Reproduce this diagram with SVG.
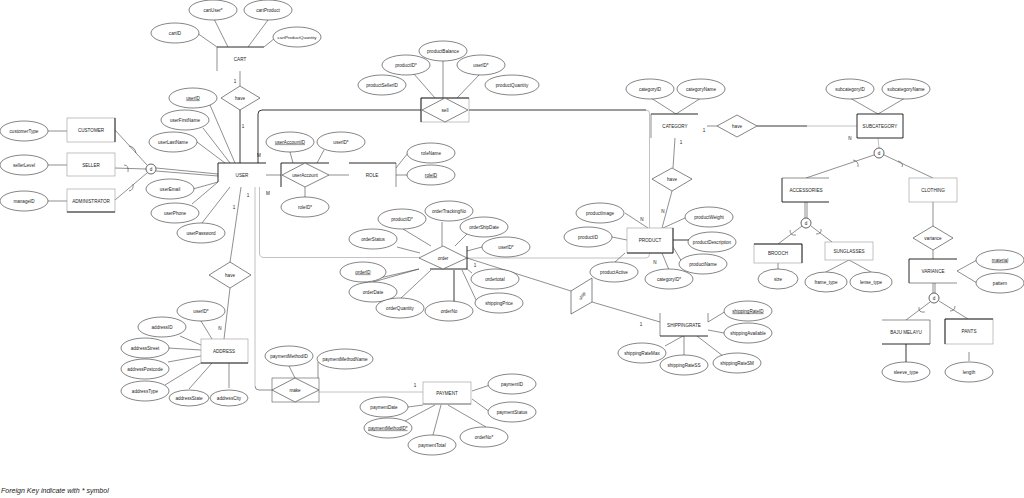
<svg xmlns="http://www.w3.org/2000/svg" width="1024" height="498" viewBox="0 0 1024 498">
<style>
text{font-family:"Liberation Sans",Arial,sans-serif;font-size:4.6px;fill:#222;text-anchor:middle}
ellipse{fill:#fff;stroke:#333;stroke-width:.6}
rect{fill:#fff;stroke:#999;stroke-width:.6}
polygon{fill:#fff;stroke:#333;stroke-width:.6}
circle{fill:#fff;stroke:#222;stroke-width:.7}
path{fill:none}
.c path,.l{stroke:#444;stroke-width:.6}
.c .d{stroke:#222;stroke-width:.9}
.c .g{stroke:#bbb;stroke-width:.9}
.e{stroke:#111;stroke-width:.9;fill:none}
.w{fill:#fff;stroke:none}
.u{text-decoration:underline}
</style>
<g id="connectors" class="c">
<path class="d" d="M421 110H262Q258 110 258 114V163"/>
<path class="d" d="M469 110H646"/>
<path d="M646 110Q649.500 110 649.500 113V228" class="g"/>
<path class="g" d="M467 258H646Q649.500 258 649.500 254V253"/>
<path class="g" d="M259.500 187V253Q259.500 257.500 264 257.500H419"/>
<path class="g" d="M255 187V386"/>
<path d="M255 386Q255 390 259 390H272"/>
<path class="g" d="M319 392H423"/>
<path d="M197 33L217 47M214 19L228 47M268 20L248 47M275 38L264 47"/>
<path d="M240 71V86"/><path class="d" d="M240 110V163"/>
<path d="M210 105L235 163M203 128L230 163M197 142L225 163M193 189L218 182M192 204L218 182M202 223L230 187M241 187L232 249L230 262M230 288L224 339"/>
<path d="M115 130L147 165M115 168L146 169M115 200L147 173M48 131H67M48 165H67M48 201H67M156 168L218 174M156 171L218 176"/>
<path d="M266 175H281M329 175H349M290 152L293 163M324 150L317 163M305 197V187M408 153L396 168M408 175H396"/>
<path d="M443 61V98M414 74L435 98M480 74L457 98"/>
<path d="M397 247L420 253M403 229L431 246M442 222V246M469 232L455 246M482 247L467 251M375 279L419 269M373 282L419 269M400 299L431 270M477 302L462 270M472 273L467 269"/>
<path class="d" d="M454 302V270"/>
<path d="M467 258L571 291M592 302L660 322"/>
<path d="M726 311L708 322M724 333L708 330M665 346L683 336M684 355V336M723 356L697 336"/>
<path d="M675 138L673 168M672 191L662 228M685 218L663 228M662 253L669 270M682 262L673 247M625 213L648 228M612 237L627 240M625 253L615 262"/>
<path class="d" d="M673 240H689"/>
<path d="M651 98L676 114M701 98L676 114M850 98L878 114M905 98L878 114M707 126H717"/>
<path class="d" d="M757 126H807"/><path class="g" d="M807 126H857M878 138L879 148"/>
<path d="M874 155L806 178M884 155L933 178M805 202V218M807 202V218M802 226L778 244M811 226L832 242M778 263V269M849 260L826 272M849 260L871 272M933 202V226M933 250V259M957 271L977 260M957 271L977 283M933 283V293M935 283V293M930 302L906 320M939 301L968 319M969 352V361"/>
<path class="d" d="M906 344V362"/>
<path d="M201 321L212 339M180 336L201 345M168 348L201 350M168 362L201 356M165 385L201 363M189 389L212 363M229 388V363M289 366L295 378M318 378V362L322 358M472 391L490 385M472 399L490 412M408 407L423 405M405 421L435 405M433 435L441 405M486 427L448 405"/>
<path d="M129 146Q135 147 136 153M124 165Q129 165 128 172M129 191Q134 190 133 184M853 160Q859 161 858 167M898 161Q904 163 902 167M790 230Q790 236 796 235M816 234Q822 234 821 229M919 307Q918 313 925 312M950 311Q955 311 955 306"/>
</g>
<g id="customerType"><ellipse cx="24" cy="131" rx="24" ry="10"/><text x="24" y="132.600">customerType</text></g>
<g id="sellerLevel"><ellipse cx="24" cy="165" rx="24" ry="10"/><text x="24" y="166.600">sellerLevel</text></g>
<g id="manageID"><ellipse cx="24" cy="201" rx="24" ry="10"/><text x="24" y="202.600">manageID</text></g>
<g id="customer"><rect x="67" y="118" width="48" height="24"/><path class="e" d="M115 118V142"/><text x="91" y="131.600">CUSTOMER</text></g>
<g id="seller"><rect x="67" y="153" width="48" height="23"/><text x="91" y="166.600">SELLER</text></g>
<g id="administrator"><rect x="67" y="189" width="48" height="23"/><path class="e" d="M67 212H115"/><text x="91" y="202.600">ADMINISTRATOR</text></g>
<g id="disjoint-user"><circle cx="151" cy="169" r="5"/><text x="151" y="170.600">d</text></g>
<g id="cart"><rect class="w" x="217" y="47" width="48" height="24"/><path class="e" d="M217 47H264"/><path class="l" d="M217 47V71"/><text x="240" y="60.600">CART</text></g>
<g id="cartUser"><ellipse cx="213" cy="10" rx="24" ry="10"/><text x="213" y="11.600">cartUser*</text></g>
<g id="cartProduct"><ellipse cx="268" cy="10" rx="24" ry="10"/><text x="268" y="11.600">cartProduct</text></g>
<g id="cartID"><ellipse cx="175" cy="33" rx="24" ry="10"/><text x="175" y="34.600">cartID</text></g>
<g id="cartProductQuantity"><ellipse cx="297" cy="37" rx="24" ry="10"/><text x="297" y="38.600" style="font-size:4.400px">cartProductQuantity</text></g>
<g id="have-cart"><polygon points="240,86 260,98 240,110 221,98"/><text x="240" y="99.600">have</text></g>
<g id="userID"><ellipse cx="193" cy="98" rx="24" ry="10"/><text class="u" x="193" y="99.600">userID</text></g>
<g id="userFirstName"><ellipse cx="185" cy="120" rx="24" ry="10"/><text x="185" y="121.600">userFirstName</text></g>
<g id="userLastName"><ellipse cx="173" cy="142" rx="24" ry="10"/><text x="173" y="143.600">userLastName</text></g>
<g id="userEmail"><ellipse cx="170" cy="189" rx="24" ry="10"/><text x="170" y="190.600">userEmail</text></g>
<g id="userPhone"><ellipse cx="175" cy="213" rx="24" ry="10"/><text x="175" y="214.600">userPhone</text></g>
<g id="userPassword"><ellipse cx="201" cy="233" rx="24" ry="10"/><text x="201" y="234.600">userPassword</text></g>
<g id="user"><rect class="w" x="218" y="163" width="48" height="24"/><path class="e" d="M218 182V163H266"/><text x="242" y="176.600">USER</text></g>
<g id="userAccount"><rect class="w" x="281" y="163" width="48" height="24"/><path class="e" d="M281 187V163H329"/><polygon points="305,163 329,175 305,187 282,175"/><text x="305" y="176.600">userAccount</text></g>
<g id="userAccountID"><ellipse cx="290" cy="142" rx="24" ry="10"/><text class="u" x="290" y="143.600">userAccountID</text></g>
<g id="userID-account"><ellipse cx="341" cy="142" rx="24" ry="10"/><text x="341" y="143.600">userID*</text></g>
<g id="roleID-fk"><ellipse cx="305" cy="207" rx="24" ry="10"/><text x="305" y="208.600">roleID*</text></g>
<g id="role"><rect class="w" x="349" y="163" width="47" height="24"/><path class="e" d="M349 163H396"/><path class="l" d="M396 163V187"/><text x="372" y="176.600">ROLE</text></g>
<g id="roleName"><ellipse cx="431" cy="153" rx="24" ry="10"/><text x="431" y="154.600">roleName</text></g>
<g id="roleID"><ellipse cx="431" cy="175" rx="24" ry="10"/><text class="u" x="431" y="176.600">roleID</text></g>
<g id="sell"><rect x="421" y="98" width="48" height="24"/><path class="e" d="M421 122V98H469"/><polygon points="445,98 468,110 445,122 422,110"/><text x="445" y="111.600">sell</text></g>
<g id="productSellerID"><ellipse cx="382" cy="85" rx="24" ry="10"/><text x="382" y="86.600">productSellerID</text></g>
<g id="productQuantity"><ellipse cx="512" cy="85" rx="27" ry="10"/><text x="512" y="86.600">productQuantity</text></g>
<g id="productID-sell"><ellipse cx="406" cy="65" rx="24" ry="10"/><text x="406" y="66.600">productID*</text></g>
<g id="userID-sell"><ellipse cx="481" cy="65" rx="24" ry="10"/><text x="481" y="66.600">userID*</text></g>
<g id="productBalance"><ellipse cx="443" cy="51" rx="24" ry="10"/><text x="443" y="52.600">productBalance</text></g>
<g id="order"><path class="e" d="M467 246V269H430"/><polygon points="443,246 467,258 443,269 419,258"/><text x="443" y="259.600">order</text></g>
<g id="productID-order"><ellipse cx="402" cy="219" rx="24" ry="10"/><text x="402" y="220.600">productID*</text></g>
<g id="orderTrackingNo"><ellipse cx="449" cy="211" rx="24" ry="10"/><text x="449" y="212.600">orderTrackingNo</text></g>
<g id="orderShipDate"><ellipse cx="484" cy="227" rx="24" ry="10"/><text x="484" y="228.600">orderShipDate</text></g>
<g id="userID-order"><ellipse cx="506" cy="247" rx="24" ry="10"/><text x="506" y="248.600">userID*</text></g>
<g id="orderStatus"><ellipse cx="373" cy="239" rx="24" ry="10"/><text x="373" y="240.600">orderStatus</text></g>
<g id="orderDate"><ellipse cx="373" cy="292" rx="24" ry="10"/><text x="373" y="293.600">orderDate</text></g>
<g id="orderID"><ellipse cx="363" cy="272" rx="23" ry="10"/><text class="u" x="363" y="273.600">orderID</text></g>
<g id="orderQuantity"><ellipse cx="400" cy="308" rx="24" ry="10"/><text x="400" y="309.600">orderQuantity</text></g>
<g id="orderNo"><ellipse cx="449" cy="311" rx="24" ry="10"/><text x="449" y="312.600">orderNo</text></g>
<g id="shippingPrice"><ellipse cx="499" cy="303" rx="24" ry="10"/><text x="499" y="304.600">shippingPrice</text></g>
<g id="orderTotal"><ellipse cx="495" cy="279" rx="24" ry="10"/><text x="495" y="280.600">ordertotal</text></g>
<g id="ship"><polygon points="571,291 592,278 592,302 571,314"/><text transform="translate(582 296) rotate(-55)" x="0" y="1.600">ship</text></g>
<g id="shippingRate"><rect class="w" x="660" y="313" width="48" height="23"/><path class="l" d="M660 313V336M708 313V322"/><path class="e" d="M660 336H708"/><text x="684" y="326.600">SHIPPINGRATE</text></g>
<g id="shippingRateID"><ellipse cx="748" cy="311" rx="24" ry="10"/><text class="u" x="748" y="312.600">shippingRateID</text></g>
<g id="shippingAvailable"><ellipse cx="748" cy="333" rx="24" ry="10"/><text x="748" y="334.600">shippingAvailable</text></g>
<g id="shippingRateMax"><ellipse cx="642" cy="353" rx="24" ry="10"/><text x="642" y="354.600">shippingRateMax</text></g>
<g id="shippingRateSS"><ellipse cx="684" cy="365" rx="24" ry="10"/><text x="684" y="366.600">shippingRateSS</text></g>
<g id="shippingRateSM"><ellipse cx="737" cy="363" rx="24" ry="10"/><text x="737" y="364.600">shippingRateSM</text></g>
<g id="product"><rect x="627" y="228" width="46" height="25"/><path class="e" d="M627 253H673V228"/><text x="650" y="241.600">PRODUCT</text></g>
<g id="productImage"><ellipse cx="600" cy="213" rx="24" ry="10"/><text x="600" y="214.600">productImage</text></g>
<g id="productID"><ellipse cx="588" cy="237" rx="24" ry="10"/><text x="588" y="238.600">productID</text></g>
<g id="productActive"><ellipse cx="614" cy="272" rx="24" ry="10"/><text x="614" y="273.600">productActive</text></g>
<g id="categoryID-fk"><ellipse cx="669" cy="279" rx="24" ry="10"/><text x="669" y="280.600">categoryID*</text></g>
<g id="productName"><ellipse cx="703" cy="264" rx="24" ry="10"/><text x="703" y="265.600">productName</text></g>
<g id="productDescription"><ellipse cx="712" cy="242" rx="24" ry="10"/><text x="712" y="243.600">productDescription</text></g>
<g id="productWeight"><ellipse cx="709" cy="217" rx="24" ry="10"/><text x="709" y="218.600">productWeight</text></g>
<g id="category"><rect class="w" x="651" y="114" width="47" height="24"/><path class="e" d="M651 114H698"/><path class="l" d="M651 114V138"/><text x="675" y="127.600">CATEGORY</text></g>
<g id="categoryID"><ellipse cx="650" cy="89" rx="24" ry="10"/><text x="650" y="90.600">categoryID</text></g>
<g id="categoryName"><ellipse cx="701" cy="89" rx="24" ry="10"/><text x="701" y="90.600">categoryName</text></g>
<g id="have-product"><polygon points="672,168 692,179 672,191 652,179"/><text x="672" y="180.600">have</text></g>
<g id="have-sub"><polygon points="737,115 757,126 737,137 717,126"/><text x="737" y="127.600">have</text></g>
<g id="subcategory"><rect class="w" x="857" y="114" width="46" height="24"/><path class="e" d="M857 114H903V138H857Z"/><text x="880" y="127.600">SUBCATEGORY</text></g>
<g id="subcategoryID"><ellipse cx="850" cy="89" rx="24" ry="10"/><text x="850" y="90.600">subcategoryID</text></g>
<g id="subcategoryName"><ellipse cx="906" cy="89" rx="24" ry="10"/><text x="906" y="90.600">subcategoryName</text></g>
<g id="disjoint-sub"><circle cx="879" cy="153" r="5"/><text x="879" y="154.600">d</text></g>
<g id="accessories"><rect class="w" x="782" y="178" width="47" height="24"/><path class="e" d="M782 178V202H829"/><path class="l" d="M782 178H829"/><text x="806" y="191.600">ACCESSORIES</text></g>
<g id="clothing"><rect x="909" y="178" width="48" height="24"/><text x="933" y="191.600">CLOTHING</text></g>
<g id="disjoint-acc"><circle cx="806" cy="223" r="5"/><text x="806" y="224.600">d</text></g>
<g id="brooch"><rect x="754" y="244" width="48" height="19"/><path class="e" d="M754 244H802V263"/><text x="778" y="255">BROOCH</text></g>
<g id="sunglasses"><rect x="825" y="242" width="48" height="18"/><text x="849" y="253">SUNGLASSES</text></g>
<g id="size"><ellipse cx="778" cy="279" rx="20" ry="10"/><text x="778" y="280.600">size</text></g>
<g id="frame_type"><ellipse cx="826" cy="282" rx="21" ry="10"/><text x="826" y="283.600">frame_type</text></g>
<g id="lense_type"><ellipse cx="871" cy="282" rx="21" ry="10"/><text x="871" y="283.600">lense_type</text></g>
<g id="variance-rel"><polygon points="933,226 953,238 933,250 913,238"/><text x="933" y="239.600">variance</text></g>
<g id="variance"><rect class="w" x="909" y="259" width="48" height="24"/><path class="e" d="M909 283V259H957"/><path class="l" d="M909 283H957"/><text x="933" y="272.600">VARIANCE</text></g>
<g id="material"><ellipse cx="1000" cy="260" rx="24" ry="10"/><text class="u" x="1000" y="261.600">material</text></g>
<g id="pattern"><ellipse cx="1000" cy="283" rx="24" ry="10"/><text x="1000" y="284.600">pattern</text></g>
<g id="disjoint-var"><circle cx="934" cy="298" r="5"/><text x="934" y="299.600">d</text></g>
<g id="baju"><rect class="w" x="882" y="320" width="48" height="24"/><path class="l" d="M882 320H930V344"/><path class="e" d="M882 344H930"/><text x="906" y="333.600">BAJU MELAYU</text></g>
<g id="pants"><rect x="945" y="319" width="48" height="25"/><path class="e" d="M945 344V319H993"/><text x="969" y="333">PANTS</text></g>
<g id="sleeve_type"><ellipse cx="906" cy="372" rx="24" ry="10"/><text x="906" y="373.600">sleeve_type</text></g>
<g id="length"><ellipse cx="969" cy="372" rx="24" ry="10"/><text x="969" y="373.600">length</text></g>
<g id="have-address"><polygon points="230,262 251,275 230,288 209,275"/><text x="230" y="276.600">have</text></g>
<g id="address"><rect x="201" y="339" width="47" height="24"/><path class="e" d="M201 363H248"/><text x="224" y="352.600">ADDRESS</text></g>
<g id="userID-address"><ellipse cx="201" cy="311" rx="24" ry="10"/><text x="201" y="312.600">userID*</text></g>
<g id="addressID"><ellipse cx="162" cy="327" rx="24" ry="10"/><text x="162" y="328.600">addressID</text></g>
<g id="addressStreet"><ellipse cx="145" cy="348" rx="24" ry="10"/><text x="145" y="349.600">addressStreet</text></g>
<g id="addressPostcode"><ellipse cx="145" cy="369" rx="24" ry="10"/><text x="145" y="370.600">addressPostcode</text></g>
<g id="addressType"><ellipse cx="145" cy="391" rx="24" ry="10"/><text x="145" y="392.600">addressType</text></g>
<g id="addressState"><ellipse cx="189" cy="398" rx="20" ry="8"/><text x="189" y="399.600">addressState</text></g>
<g id="addressCity"><ellipse cx="229" cy="398" rx="19" ry="8"/><text x="229" y="399.600">addressCity</text></g>
<g id="make"><rect x="272" y="378" width="47" height="24" style="stroke:#555"/><polygon points="295,378 319,390 295,402 272,390"/><text x="295" y="391.600">make</text></g>
<g id="paymentMethodID"><ellipse cx="289" cy="356" rx="24" ry="10"/><text x="289" y="357.600">paymentMethodID</text></g>
<g id="paymentMethodName"><ellipse cx="345" cy="359" rx="28" ry="10"/><text x="345" y="360.600">paymentMethodName</text></g>
<g id="payment"><rect x="423" y="382" width="48" height="22"/><path class="l" d="M423 404H471"/><text x="447" y="394.600">PAYMENT</text></g>
<g id="paymentID"><ellipse cx="512" cy="384" rx="24" ry="10"/><text x="512" y="385.600">paymentID</text></g>
<g id="paymentStatus"><ellipse cx="512" cy="412" rx="24" ry="10"/><text x="512" y="413.600">paymentStatus</text></g>
<g id="paymentDate"><ellipse cx="384" cy="407" rx="24" ry="10"/><text x="384" y="408.600">paymentDate</text></g>
<g id="paymentMethodID-fk"><ellipse cx="388" cy="428" rx="24" ry="10"/><text class="u" x="388" y="429.600">paymentMethodID*</text></g>
<g id="paymentTotal"><ellipse cx="432" cy="445" rx="24" ry="10"/><text x="432" y="446.600">paymentTotal</text></g>
<g id="orderNo-fk"><ellipse cx="484" cy="437" rx="24" ry="10"/><text x="484" y="438.600">orderNo*</text></g>
<g id="cardinalities">
<text x="235" y="83">1</text><text x="243" y="128">1</text><text x="259" y="157">M</text><text x="268" y="195">M</text><text x="248" y="197">1</text><text x="234" y="209">1</text><text x="220" y="330">N</text><text x="415" y="387">1</text><text x="642" y="221">N</text><text x="663" y="213">N</text><text x="681" y="144">1</text><text x="704" y="132">1</text><text x="850" y="140">N</text><text x="655" y="264">N</text><text x="475" y="267">1</text><text x="641" y="326">1</text>
</g>
<text x="1" y="493" style="font-size:7.050px;font-style:italic;text-anchor:start">Foreign Key indicate with * symbol</text>
</svg>
